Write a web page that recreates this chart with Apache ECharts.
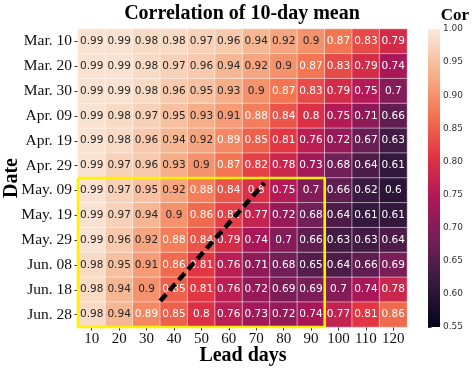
<!DOCTYPE html>
<html>
<head>
<meta charset="utf-8">
<script src="https://cdn.jsdelivr.net/npm/echarts@6/dist/echarts.min.js"></script>
<style>html,body{margin:0;padding:0;background:#fff;}#c{width:474px;height:368px;}</style>
</head>
<body>
<div id="c"></div>
<script>
const leadDays = ['10','20','30','40','50','60','70','80','90','100','110','120'];
const dates = ['Mar. 10','Mar. 20','Mar. 30','Apr. 09','Apr. 19','Apr. 29','May. 09','May. 19','May. 29','Jun. 08','Jun. 18','Jun. 28'];

const mar10 = [0.99,0.99,0.98,0.98,0.97,0.96,0.94,0.92,0.9,0.87,0.83,0.79];
const mar20 = [0.99,0.99,0.98,0.97,0.96,0.94,0.92,0.9,0.87,0.83,0.79,0.74];
const mar30 = [0.99,0.99,0.98,0.96,0.95,0.93,0.9,0.87,0.83,0.79,0.75,0.7];
const apr09 = [0.99,0.98,0.97,0.95,0.93,0.91,0.88,0.84,0.8,0.75,0.71,0.66];
const apr19 = [0.99,0.98,0.96,0.94,0.92,0.89,0.85,0.81,0.76,0.72,0.67,0.63];
const apr29 = [0.99,0.97,0.96,0.93,0.9,0.87,0.82,0.78,0.73,0.68,0.64,0.61];
const may09 = [0.99,0.97,0.95,0.92,0.88,0.84,0.8,0.75,0.7,0.66,0.62,0.6];
const may19 = [0.99,0.97,0.94,0.9,0.86,0.82,0.77,0.72,0.68,0.64,0.61,0.61];
const may29 = [0.99,0.96,0.92,0.88,0.84,0.79,0.74,0.7,0.66,0.63,0.63,0.64];
const jun08 = [0.98,0.95,0.91,0.86,0.81,0.76,0.71,0.68,0.65,0.64,0.66,0.69];
const jun18 = [0.98,0.94,0.9,0.85,0.81,0.76,0.72,0.69,0.69,0.7,0.74,0.78];
const jun28 = [0.98,0.94,0.89,0.85,0.8,0.76,0.73,0.72,0.74,0.77,0.81,0.86];
const rows = [mar10,mar20,mar30,apr09,apr19,apr29,may09,may19,may29,jun08,jun18,jun28];

// colour bar range and ticks
const cbMin = 0.55, cbMax = 1.0, cbStep = 0.05;

// annotations in data terms: [lead days, row position]
const diagLine = [[35, 10.45], [73, 5.7]];
const boxLead = [5, 95];
const boxRows = [5.5, 11.5];

const rocketR = ['#03051a','#35193e','#701f57','#ad1759','#e13342','#f37651','#f6b48f','#faebdd'];

const heatData = [];
rows.forEach((r, yi) => r.forEach((v, xi) => {
  heatData.push({value: [xi, yi, v], label: {color: v >= 0.9 ? '#262626' : '#ffffff'}});
}));
const boxPts = [[boxLead[0],boxRows[0]],[boxLead[1],boxRows[0]],[boxLead[1],boxRows[1]],[boxLead[0],boxRows[1]],[boxLead[0],boxRows[0]]];

const serif = '"Liberation Serif", "Times New Roman", serif';
const sans = '"DejaVu Sans", sans-serif';
const G = {left: 78, top: 29, width: 329, height: 298};
const CB = {left: 428, top: 29, width: 12, height: 298};
// gradient stops for the colour bar (top = max)
const cbStops = rocketR.map((c, i) => ({offset: 1 - i / (rocketR.length - 1), color: c}));

const chart = echarts.init(document.getElementById('c'), null, {renderer: 'canvas'});
chart.setOption({
  animation: false,
  backgroundColor: '#ffffff',
  grid: [
    Object.assign({}, G),
    Object.assign({}, G),
    Object.assign({}, CB)
  ],
  xAxis: [
    {type: 'category', data: leadDays, gridIndex: 0, position: 'bottom',
     axisLine: {show: false}, axisTick: {show: true, length: 3.5, alignWithLabel: true, lineStyle: {color: '#333'}},
     axisLabel: {fontFamily: serif, fontSize: 15, color: '#111', margin: 5, interval: 0, hideOverlap: false}, splitLine: {show: false}},
    {type: 'value', gridIndex: 1, min: 5, max: 125, show: false},
    {type: 'value', gridIndex: 2, min: 0, max: 1, show: false}
  ],
  yAxis: [
    {type: 'category', data: dates, gridIndex: 0, inverse: true,
     axisLine: {show: false}, axisTick: {show: true, length: 3.5, alignWithLabel: true, lineStyle: {color: '#333'}},
     axisLabel: {fontFamily: serif, fontSize: 15.5, color: '#111', margin: 6, interval: 0}, splitLine: {show: false}},
    {type: 'value', gridIndex: 1, min: -0.5, max: 11.5, inverse: true, show: false},
    {type: 'value', gridIndex: 2, min: cbMin, max: cbMax, interval: cbStep, position: 'right',
     axisLine: {show: false}, axisTick: {show: true, length: 3.5, lineStyle: {color: '#333'}},
     axisLabel: {fontFamily: sans, fontSize: 9, color: '#333', margin: 3, formatter: v => v.toFixed(2)},
     splitLine: {show: false}}
  ],
  visualMap: {
    show: false, type: 'continuous', min: cbMin, max: cbMax, dimension: 2, seriesIndex: 0,
    inRange: {color: rocketR}
  },
  series: [
    {type: 'heatmap', xAxisIndex: 0, yAxisIndex: 0, data: heatData,
     itemStyle: {borderColor: 'rgba(255,255,255,0.85)', borderWidth: 0.6},
     label: {show: true, fontFamily: sans, fontSize: 10.5, formatter: p => String(p.value[2])},
     emphasis: {disabled: true}},
    {type: 'line', xAxisIndex: 1, yAxisIndex: 1, data: boxPts, symbol: 'none', clip: false, z: 5,
     lineStyle: {color: '#fff200', width: 2.6}, silent: true},
    {type: 'line', xAxisIndex: 1, yAxisIndex: 1, data: diagLine, symbol: 'none', clip: false, z: 6,
     lineStyle: {color: '#000000', width: 4.5, type: [9, 5], cap: 'butt'}, silent: true}
  ],
  graphic: [
    {type: 'rect', shape: {x: CB.left, y: CB.top, width: CB.width, height: CB.height}, z: 1,
     style: {fill: new echarts.graphic.LinearGradient(0, 0, 0, 1, cbStops)}},
    {type: 'text', x: 242, y: 14, style: {text: 'Correlation of 10-day mean', font: 'bold 20px ' + serif, fill: '#000', textAlign: 'center', textVerticalAlign: 'middle'}},
    {type: 'text', x: 455, y: 16, style: {text: 'Cor', font: 'bold 17px ' + serif, fill: '#000', textAlign: 'center', textVerticalAlign: 'middle'}},
    {type: 'text', x: 243, y: 356, style: {text: 'Lead days', font: 'bold 20px ' + serif, fill: '#000', textAlign: 'center', textVerticalAlign: 'middle'}},
    {type: 'text', x: 12, y: 178, rotation: Math.PI / 2, style: {text: 'Date', font: 'bold 20px ' + serif, fill: '#000', textAlign: 'center', textVerticalAlign: 'middle'}}
  ]
});
</script>
</body>
</html>
